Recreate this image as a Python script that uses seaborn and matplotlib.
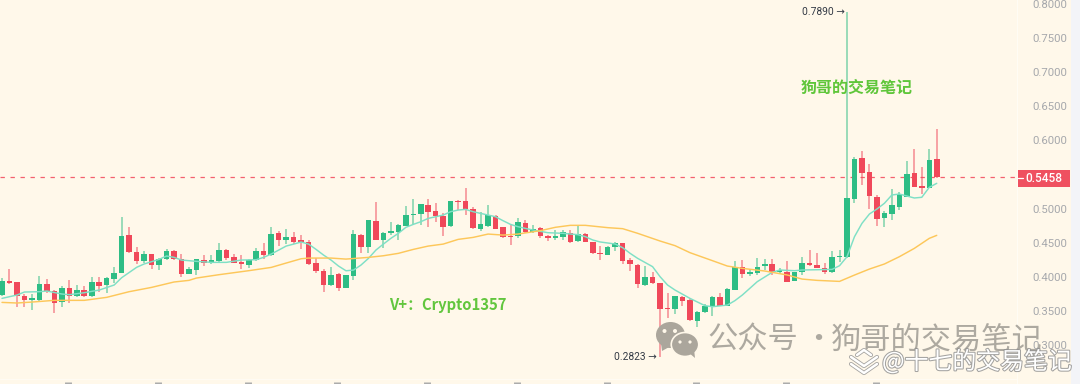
import numpy as np
import pandas as pd
import seaborn as sns
import matplotlib
matplotlib.use("Agg")
import matplotlib.pyplot as plt
import matplotlib.patheffects as pe
from matplotlib.patches import Ellipse, Polygon, Rectangle

opens = [.3738,.3938,.3924,.3718,.3664,.3660,.3899,.3797,.3625,.3836,
         .3723,.3806,.3723,.3924,.3875,.3973,.4056,.4608,.4369,.4232,
         .4330,.4168,.4261,.4383,.4266,.4041,.4105,.4242,.4198,.4227,
         .4393,.4286,.4217,.4173,.4246,.4378,
         .4319,.4637,.4539,.4583,.4534,.4510,.4202,.4084,.3879,.4040,
         .3835,.4016,.4608,.4432,.4813,.4539,.4647,.4652,.4749,.4906,
         .4916,.5053,.4965,.4896,.4749,.5116,.5106,.4999,.4696,.4749,
         .4891,.4725,.4603,.4603,.4788,.4656,
         .4711,.4603,.4564,.4584,.4647,.4525,.4633,.4511,.4354,.4320,
         .4437,.4496,.4242,.4178,.3875,.4002,.3914,.3537,.3523,.3709,
         .3660,.3347,.3484,.3572,.3709,.3572,.3811,.4149,.4046,.4056,
         .4154,.4188,.4075,.4070,.3943,.4065,.4202,.4178,.4134,.4065,
         .4290,.4285,.5136,.5738,.5537,.5166,.4867,.4916,.5029,.5175,
         .5522,.5332,.5302,.5728]
closes = [.3938,.3914,.3713,.3660,.3684,.3894,.3797,.3620,.3836,.3723,
          .3806,.3723,.3924,.3865,.3977,.4051,.4598,.4359,.4232,.4330,
          .4168,.4266,.4378,.4261,.4041,.4119,.4256,.4198,.4242,.4393,
          .4281,.4207,.4183,.4246,.4378,.4315,
          .4622,.4534,.4583,.4515,.4510,.4192,.4079,.3879,.4021,.3835,
          .4021,.4622,.4432,.4837,.4544,.4647,.4666,.4759,.4911,.4925,
          .5067,.4950,.4891,.4735,.5116,.5101,.4989,.4710,.4774,.4911,
          .4705,.4588,.4588,.4803,.4652,.4705,
          .4599,.4564,.4594,.4657,.4511,.4628,.4511,.4344,.4330,.4442,
          .4491,.4232,.4183,.3894,.3997,.3914,.3533,.3523,.3718,.3650,
          .3366,.3489,.3577,.3709,.3572,.3821,.4149,.4041,.4075,.4149,
          .4188,.4070,.4095,.3929,.4070,.4197,.4173,.4134,.4070,.4290,
          .4305,.5156,.5728,.5527,.5180,.4853,.4936,.5048,.5210,.5508,
          .5322,.5298,.5713,.5458]
highs = [.3987,.4109,.3924,.3748,.3748,.4007,.3963,.3806,.3860,.3953,
         .3875,.3870,.3992,.3992,.3992,.4139,.4872,.4726,.4442,.4374,
         .4339,.4281,.4403,.4393,.4334,.4149,.4256,.4320,.4325,.4501,
         .4403,.4334,.4315,.4266,.4418,.4501,
         .4725,.4671,.4696,.4652,.4612,.4544,.4270,.4114,.4138,.4050,
         .4026,.4686,.4622,.4837,.5101,.4656,.4808,.4769,.5038,.5141,
         .5067,.5136,.5077,.4940,.5116,.5126,.5297,.5018,.4945,.5053,
         .4901,.4735,.4774,.4867,.4832,.4759,
         .4726,.4613,.4687,.4687,.4687,.4755,.4638,.4515,.4452,.4452,
         .4515,.4501,.4271,.4188,.4163,.4066,.3914,.3767,.3723,.3718,
         .3689,.3503,.3601,.3723,.3758,.3831,.4232,.4246,.4114,.4281,
         .4256,.4266,.4134,.4232,.4075,.4295,.4398,.4344,.4202,.4378,
         .4398,.7890,.5762,.5845,.5655,.5200,.4970,.5283,.5244,.5699,
         .5879,.5615,.5875,.6163]
lows = [.3718,.3894,.3552,.3562,.3513,.3640,.3757,.3464,.3552,.3616,
        .3704,.3709,.3699,.3777,.3767,.3904,.4051,.4349,.4188,.4198,
        .4119,.4100,.4242,.4242,.3997,.4036,.4031,.4158,.4188,.4217,
        .4246,.4198,.4119,.4129,.4237,.4261,
        .4309,.4451,.4476,.4476,.4407,.4177,.4050,.3776,.3864,.3786,
        .3830,.3952,.4344,.4344,.4539,.4417,.4612,.4539,.4740,.4759,
        .4759,.4725,.4808,.4603,.4725,.4979,.4911,.4696,.4676,.4735,
        .4700,.4573,.4466,.4564,.4637,.4637,
        .4564,.4530,.4540,.4540,.4491,.4515,.4511,.4330,.4246,.4315,
        .4379,.4188,.4090,.3841,.3865,.3899,.2823,.3401,.3459,.3572,
        .3352,.3269,.3474,.3425,.3567,.3567,.3802,.3982,.4017,.4022,
        .4100,.4022,.4041,.3924,.3938,.4026,.4163,.4124,.4046,.4060,
        .4222,.4280,.5087,.5346,.4989,.4750,.4725,.4833,.4980,.5166,
        .5312,.5219,.5298,.5450]

fast_idx = [0,2,3,5,6,8,9,11,13,15,16,18,19,21,22,23,24,26,28,30,32,34,35,
            36,37,38,39,40,41,42,43,44,45,46,47,48,49,50,51,52,53,54,55,56,57,58,59,60,
            61,62,63,64,65,66,67,68,69,70,71,73,75,77,78,79,80,82,83,84,85,87,88,89,90,92,
            94,95,97,98,99,101,103,104,106,107,109,111,112,113,114,115,116,117,118,119,120,
            121,122,123,124,125]
fast_ma = [.3684,.3733,.3777,.3782,.3792,.3748,.3738,.3767,.3806,.3880,.3987,.4139,.4188,.4256,.4305,.4286,.4246,.4227,.4212,.4212,.4246,.4251,.4286,
           .4334,.4392,.4451,.4480,.4510,.4480,.4402,.4319,.4246,.4158,.4089,.4099,.4172,.4270,.4392,.4480,.4564,.4637,.4725,.4769,.4808,.4857,.4881,.4906,.4955,
           .4979,.4989,.4955,.4930,.4906,.4881,.4823,.4769,.4735,.4710,.4686,.4647,.4638,.4618,.4589,.4540,.4511,.4481,.4427,.4344,.4271,.4149,.4002,.3880,.3806,.3684,
           .3577,.3562,.3586,.3650,.3733,.3929,.4066,.4100,.4090,.4100,.4104,.4109,.4163,.4295,.4589,.4784,.4921,.4994,.5078,.5200,.5214,
           .5185,.5156,.5166,.5312,.5371]
slow_idx = [0,2,4,7,11,14,17,20,23,25,26,29,33,36,38,40,41,44,46,49,51,53,55,57,59,61,63,65,67,69,
            72,74,76,78,81,83,85,88,90,92,95,97,99,102,105,107,109,112,114,116,118,120,122,124,125]
slow_ma = [.3625,.3616,.3630,.3655,.3655,.3699,.3782,.3845,.3924,.3948,.3982,.4031,.4090,.4138,.4202,.4265,.4275,.4275,.4260,.4285,.4309,.4344,.4402,.4451,.4480,.4549,.4578,.4627,.4612,.4627,
           .4677,.4726,.4755,.4755,.4721,.4706,.4638,.4525,.4457,.4354,.4237,.4158,.4124,.4085,.4027,.3967,.3948,.3933,.4026,.4114,.4188,.4295,.4417,.4564,.4608]
price_ticks = [0.30,0.35,0.40,0.45,0.50,0.60,0.65,0.70,0.75,0.80]
last_price = 0.5458
high_mark = 0.7890
low_mark = 0.2823
main_note = "狗哥的交易笔记"
contact_note = "V+：Crypto1357"
wechat_prefix = "公众号"
wechat_dot = "·"
wechat_name = "狗哥的交易笔记"
author_tag = "@十七的交易笔记"

BG = "#FFF8EA"
UP = "#2EBD85"
DOWN = "#F0485A"
CJK = ["Noto Sans CJK SC", "DejaVu Sans"]

sns.set_theme(style="white")
plt.rcParams["font.family"] = ["Roboto", "DejaVu Sans"]

W, H = 1080, 384
fig = plt.figure(figsize=(W/100, H/100), dpi=100, facecolor=BG)
AX_R = 1017
ax = fig.add_axes([0, 0, AX_R/W, 1], facecolor=BG)

df = pd.DataFrame(dict(i=np.arange(len(opens)), o=opens, c=closes, h=highs, l=lows))
df["col"] = np.where(df.c >= df.o, UP, DOWN)

ax.vlines(df.i, df.l, df.h, colors=df.col, linewidth=1.25, alpha=0.55, zorder=2)
ax.bar(df.i, (df.c - df.o).abs().clip(lower=0.0015), bottom=df[["o", "c"]].min(axis=1),
       width=0.74, color=df.col, linewidth=0, zorder=3)

sns.lineplot(x=fast_idx, y=fast_ma, ax=ax, color="#7FE0C6", linewidth=1.05, zorder=4,
             estimator=None, sort=False, errorbar=None)
sns.lineplot(x=slow_idx, y=slow_ma, ax=ax, color="#FDC75A", linewidth=1.05, zorder=4,
             estimator=None, sort=False, errorbar=None)

ax.axhline(last_price, color="#F4606E", linewidth=0.9, dashes=(3.5, 4.5), zorder=1.5)

ax.set_xlim(-2/7.478, (AX_R-2)/7.478)
ax.set_ylim(0.8059 - H/682, 0.8059)

ax.yaxis.tick_right()
ax.set_yticks(price_ticks)
ax.set_yticklabels([f"{t:.4f}" for t in price_ticks], fontsize=8.2, color="#A6A8AC")
ax.tick_params(axis="y", length=0, pad=11)
ax.set_xticks(np.arange(8.85, 126, 12.0))
ax.set_xticklabels([])
ax.tick_params(axis="x", direction="in", length=1.2, width=5, color="#ABABAB", bottom=True)
for s in ("top", "left", "bottom"):
    ax.spines[s].set_visible(False)
ax.spines["right"].set_color("#FFFCF4")
ax.spines["right"].set_linewidth(0.8)

hi_i = highs.index(high_mark)
lo_i = lows.index(low_mark)
ax.annotate(f"{high_mark:.4f} →", (hi_i, high_mark), xytext=(-2.5, 0), textcoords="offset pixels",
            ha="right", va="center", fontsize=7.4, color="#333A45", zorder=6)
ax.annotate(f"{low_mark:.4f} →", (lo_i, low_mark), xytext=(-3, 0), textcoords="offset pixels",
            ha="right", va="center", fontsize=7.4, color="#333A45", zorder=6)

# overlay in pixel coordinates for the badge, stamp and watermarks
ov = fig.add_axes([0, 0, 1, 1], facecolor="none")
ov.set_xlim(0, W)
ov.set_ylim(H, 0)
ov.axis("off")

ov.add_patch(Rectangle((1071, 0), 9, H, color="#F3F4F8", lw=0, zorder=1))
ov.plot([0, 1017], [379, 379], color="#FFFCF4", lw=0.7, zorder=1)
ov.add_patch(Rectangle((1017.5, 169.5), 52, 17.5, color="#EF5060", lw=0, zorder=2))
ov.plot([1017.5, 1023], [178.3, 178.3], color="white", lw=0.9, zorder=3)
ov.text(1044, 178.6, f"{last_price:.4f}", color="white", fontsize=8.6, fontweight="medium",
        ha="center", va="center", zorder=3)

ov.text(857, 87.5, main_note, family=CJK, fontsize=11.5, fontweight="bold", color="#5FC63A",
        ha="center", va="center", zorder=6)
ov.text(448, 305, contact_note, family=CJK, fontsize=10.7, fontweight="bold", color="#62C63E",
        ha="center", va="center", zorder=6)

# WeChat mark
MARK = "#ABA69C"
ov.add_patch(Ellipse((670.5, 335), 29, 26, color=MARK, lw=0, zorder=7))
ov.add_patch(Polygon([[661, 343], [662, 351], [671, 346]], color=MARK, lw=0, zorder=7))
ov.add_patch(Ellipse((685, 344.5), 27.5, 24, facecolor=MARK, edgecolor=BG, lw=1.2, zorder=8))
ov.add_patch(Polygon([[688, 352], [695, 358], [694, 349]], color=MARK, lw=0, zorder=8))
for cx, cy, r in [(664.5, 331, 2), (675, 331, 2), (680, 342, 1.6), (690, 342, 1.6)]:
    ov.add_patch(Ellipse((cx, cy), 2*r, 2*r, color=BG, lw=0, zorder=9))

wm = dict(family=CJK, fontsize=21.8, color="#ADA9A0", va="center", zorder=7)
ov.text(707, 340, wechat_prefix, ha="left", **wm)
ov.text(818, 340, wechat_dot, ha="center", **wm)
ov.text(831, 340, wechat_name, ha="left", **wm)

stroke = [pe.withStroke(linewidth=1.5, foreground="#8E8E8E", alpha=0.8)]
ov.text(882, 361.5, author_tag, family=CJK, fontsize=17.2, color="white", ha="left", va="center",
        zorder=10, path_effects=stroke)
for dy in (0, 7):
    ov.plot([851, 864, 877], [357+dy, 366+dy, 357+dy], color="white", lw=1.8, zorder=10,
            path_effects=[pe.withStroke(linewidth=3, foreground="#8E8E8E", alpha=0.8)],
            solid_capstyle="round")
ov.plot([857, 864, 871], [355, 350, 355], color="white", lw=1.8, zorder=10,
        path_effects=[pe.withStroke(linewidth=3, foreground="#8E8E8E", alpha=0.8)],
        solid_capstyle="round")

fig.savefig("out.png", dpi=100, facecolor=BG)
